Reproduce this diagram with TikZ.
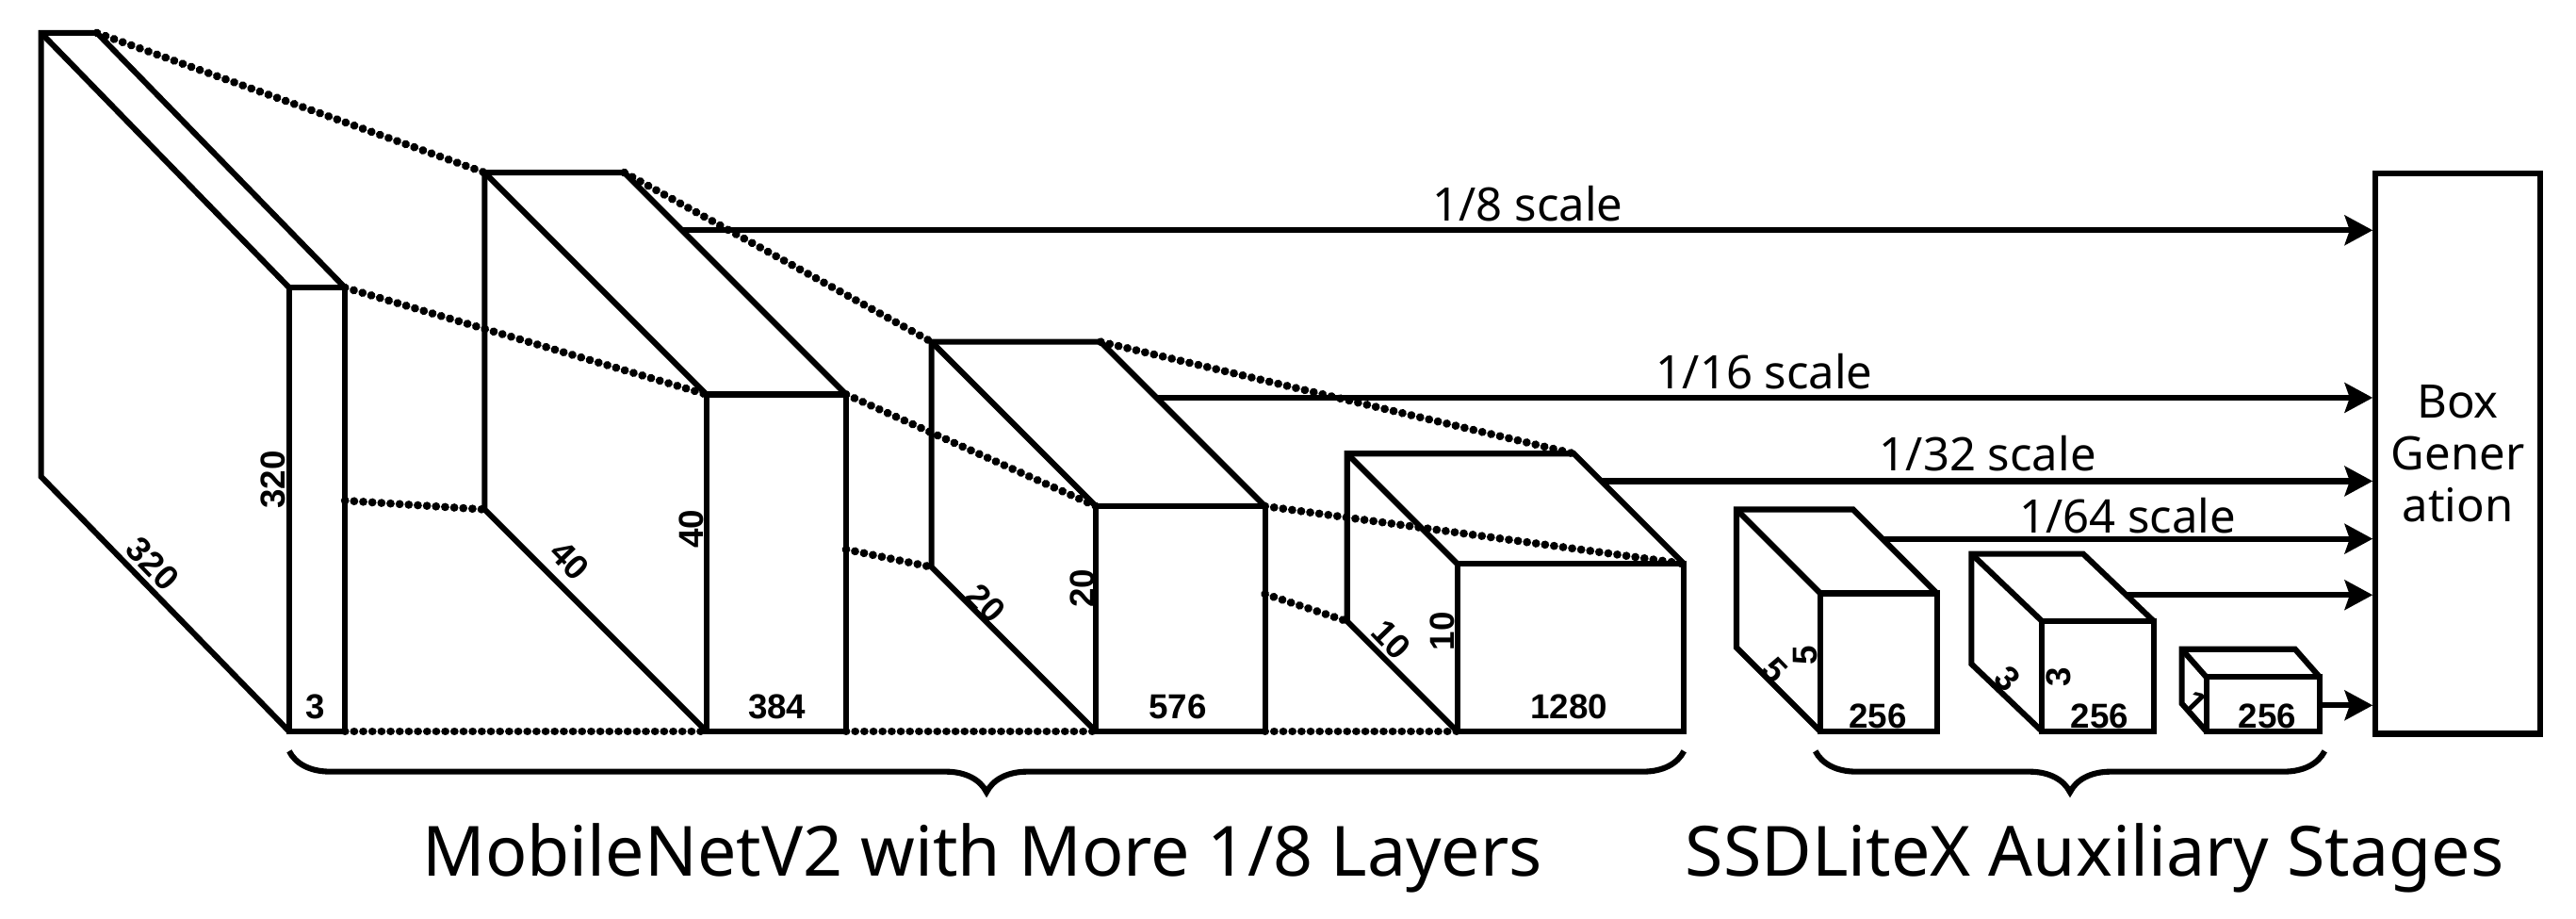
\documentclass[tikz,border=0pt]{standalone}
\usepackage{fontspec}
\setmainfont{Noto Sans}
\newfontfamily\dimfont{Liberation Sans}
\usetikzlibrary{calc,arrows.meta,decorations.pathreplacing}
\newcommand\mycube[7]{%
 \coordinate (#1-ftl) at (#2,#3); \coordinate (#1-ftr) at (#4,#3);
 \coordinate (#1-fbl) at (#2,#5); \coordinate (#1-fbr) at (#4,#5);
 \coordinate (#1-btl) at ({#2-#6},{#3-#7}); \coordinate (#1-btr) at ({#4-#6},{#3-#7});
 \coordinate (#1-bbl) at ({#2-#6},{#5-#7});
 \draw[cube] (#1-ftl) rectangle (#1-fbr);
 \draw[cube] (#1-fbl) -- (#1-bbl) -- (#1-btl) -- (#1-btr) -- (#1-ftr);
 \draw[cube] (#1-btl) -- (#1-ftl);
}
\tikzset{
 cube/.style={line width=0.07cm, line join=miter},
 dots/.style={line width=0.1cm, dash pattern=on 0.001cm off 0.11cm, line cap=round},
 arr/.style={line width=0.07cm, -{Stealth[length=0.34cm,width=0.36cm,inset=0.06cm]}},
 dim/.style={font=\dimfont\fontsize{12}{12}\selectfont\bfseries, inner sep=0pt},
 scl/.style={font=\fontsize{16}{16}\selectfont, inner sep=0pt},
 big/.style={font=\fontsize{24}{24}\selectfont, inner sep=0pt},
 brc/.style={line width=0.07cm, decorate, decoration={brace, mirror, amplitude=0.5cm}},
}
\begin{document}
\begin{tikzpicture}[x=0.02cm,y=-0.02cm]
\useasboundingbox (0,0) rectangle (1568,559);
\mycube{c1}{176}{175}{210}{445}{151}{155}
\mycube{c2}{430}{240}{515}{445}{135}{135}
\mycube{c3}{667}{308}{770}{445}{100}{100}
\mycube{c4}{887}{343}{1025}{445}{67}{67}
\mycube{c5}{1108}{361}{1179}{445}{51}{51}
\mycube{c6}{1243}{378}{1311}{445}{43}{41}
\mycube{c7}{1343}{412}{1412}{445}{15}{17}
% dotted frustum lines
\draw[dots] (c1-btr) -- (c2-btl);
\draw[dots] (c1-ftr) -- (c2-ftl);
\draw[dots] ($(c1-ftr)!0.48!(c1-fbr)$) -- (c2-bbl);
\draw[dots] (c1-fbr) -- (c2-fbl);
\draw[dots] (c2-btr) -- (c3-btl);
\draw[dots] (c2-ftr) -- (c3-ftl);
\draw[dots] ($(c2-ftr)!0.46!(c2-fbr)$) -- (c3-bbl);
\draw[dots] (c2-fbr) -- (c3-fbl);
\draw[dots] (c3-btr) -- (c4-btr);
\draw[dots] (c3-ftr) -- (c4-ftr);
\draw[dots] ($(c3-ftr)!0.39!(c3-fbr)$) -- (c4-bbl);
\draw[dots] (c3-fbr) -- (c4-fbl);
% box generation
\node[draw, line width=0.07cm, minimum width=2cm, minimum height=6.82cm, inner sep=0pt] (bg) at (1496,276) {};
\node[scl, align=center] (bgt) at (bg.center) {Box\\[2pt]Gener\\[2pt]ation};
% arrows
\coordinate (s1) at ($(c2-btr)!0.26!(c2-ftr)$);
\coordinate (s2) at ($(c3-btr)!0.34!(c3-ftr)$);
\coordinate (s3) at ($(c4-btr)!0.25!(c4-ftr)$);
\coordinate (s4) at ($(c5-btr)!0.35!(c5-ftr)$);
\coordinate (s5) at ($(c6-btr)!0.61!(c6-ftr)$);
\coordinate (s6) at ($(c7-ftr)!0.52!(c7-fbr)$);
\draw[arr] (s1) -- (s1 -| bg.west);
\draw[arr] (s2) -- (s2 -| bg.west);
\draw[arr] (s3) -- (s3 -| bg.west);
\draw[arr] (s4) -- (s4 -| bg.west);
\draw[arr] (s5) -- (s5 -| bg.west);
\draw[arr] (s6) -- (s6 -| bg.west);
\node[scl] (l1) at (930,124) {1/8 scale};
\node[scl] (l2) at (1074,226) {1/16 scale};
\node[scl] (l3) at (1210,276) {1/32 scale};
\node[scl] (l4) at (1295,314) {1/64 scale};
% dimension labels
\node[dim, rotate=90] (d1a) at (166,292) {320};
\node[dim, rotate=-46] (d1b) at (93,343) {320};
\node[dim] (d1c) at (192,430) {3};
\node[dim, rotate=90] (d2a) at (421,322) {40};
\node[dim, rotate=-46] (d2b) at (347,341) {40};
\node[dim] (d2c) at (473,430) {384};
\node[dim, rotate=90] (d3a) at (659,358) {20};
\node[dim, rotate=-46] (d3b) at (600,367) {20};
\node[dim] (d3c) at (717,430) {576};
\node[dim, rotate=90] (d4a) at (878,384) {10};
\node[dim, rotate=-46] (d4b) at (847,389) {10};
\node[dim] (d4c) at (955,430) {1280};
\node[dim, rotate=-46] (d5a) at (1080,408) {5};
\node[dim, rotate=90] (d5b) at (1099,399) {5};
\node[dim] (d5c) at (1143,436) {256};
\node[dim, rotate=-46] (d6a) at (1222,413) {3};
\node[dim, rotate=90] (d6b) at (1253,412) {3};
\node[dim] (d6c) at (1278,436) {256};
\node[dim, rotate=-46] (d7a) at (1336,428) {1};
\node[dim] (d7c) at (1380,436) {256};
% braces
\draw[brc] (176,457) -- (1025,457);
\draw[brc] (1105,457) -- (1415,457);
\node[big] (t1) at (598,522) {MobileNetV2 with More 1/8 Layers};
\node[big] (t2) at (1275,522) {SSDLiteX Auxiliary Stages};
\end{tikzpicture}
\end{document}
